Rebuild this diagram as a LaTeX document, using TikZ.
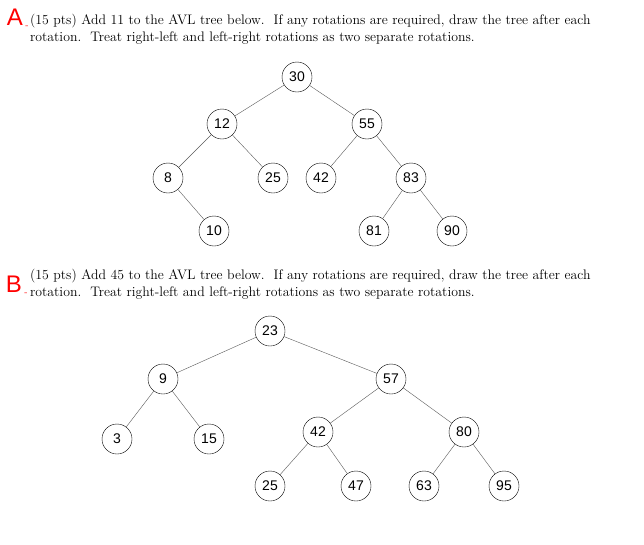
\documentclass[tikz,border=0pt]{standalone}
\usepackage{fontspec}
\newfontfamily\arialf{Liberation Sans}
\begin{document}
\begin{tikzpicture}[x=1pt,y=-1pt,
  nd/.style={circle,draw,thin,minimum size=30pt,inner sep=0pt,font=\arialf\fontsize{14}{14}\selectfont},
  ln/.style={draw,gray!70!black,thin},
  txt/.style={anchor=west,inner sep=0pt,font=\fontsize{13.8}{15}\selectfont},
  hand/.style={red,font=\arialf\fontsize{24}{24}\selectfont,inner sep=0pt}]
\useasboundingbox (0,0) rectangle (644,544);
\node[hand] (la) at (15,17) {A};
\node[red,inner sep=0pt] (da) at (27,27) {-};
\node[txt] (t1) at (30,21) {(15 pts) Add 11 to the AVL tree below.\ \ If any rotations are required, draw the tree after each};
\node[txt] (t2) at (30,38) {rotation.\ \ Treat right-left and left-right rotations as two separate rotations.};
\node[hand] (lb) at (14,284) {B};
\node[red,inner sep=0pt] (db) at (26,294) {-};
\node[txt] (t3) at (30,276) {(15 pts) Add 45 to the AVL tree below.\ \ If any rotations are required, draw the tree after each};
\node[txt] (t4) at (30,293) {rotation.\ \ Treat right-left and left-right rotations as two separate rotations.};
% tree A
\node[nd] (a30) at (297,77) {30};
\node[nd] (a12) at (222,124) {12};
\node[nd] (a55) at (367,124) {55};
\node[nd] (a8) at (168,178) {8};
\node[nd] (a25) at (273,178) {25};
\node[nd] (a42) at (321,178) {42};
\node[nd] (a83) at (411,178) {83};
\node[nd] (a10) at (214,231) {10};
\node[nd] (a81) at (374,231) {81};
\node[nd] (a90) at (452,231) {90};
\draw[ln] (a30)--(a12); \draw[ln] (a30)--(a55);
\draw[ln] (a12)--(a8); \draw[ln] (a12)--(a25);
\draw[ln] (a55)--(a42); \draw[ln] (a55)--(a83);
\draw[ln] (a8)--(a10); \draw[ln] (a83)--(a81); \draw[ln] (a83)--(a90);
% tree B
\node[nd] (b23) at (270,331) {23};
\node[nd] (b9) at (163,379) {9};
\node[nd] (b57) at (391,379) {57};
\node[nd] (b3) at (117,439) {3};
\node[nd] (b15) at (209,439) {15};
\node[nd] (b42) at (318,432) {42};
\node[nd] (b80) at (464,432) {80};
\node[nd] (b25) at (270,486) {25};
\node[nd] (b47) at (356,486) {47};
\node[nd] (b63) at (424,486) {63};
\node[nd] (b95) at (504,486) {95};
\draw[ln] (b23)--(b9); \draw[ln] (b23)--(b57);
\draw[ln] (b9)--(b3); \draw[ln] (b9)--(b15);
\draw[ln] (b57)--(b42); \draw[ln] (b57)--(b80);
\draw[ln] (b42)--(b25); \draw[ln] (b42)--(b47);
\draw[ln] (b80)--(b63); \draw[ln] (b80)--(b95);
\end{tikzpicture}
\end{document}
